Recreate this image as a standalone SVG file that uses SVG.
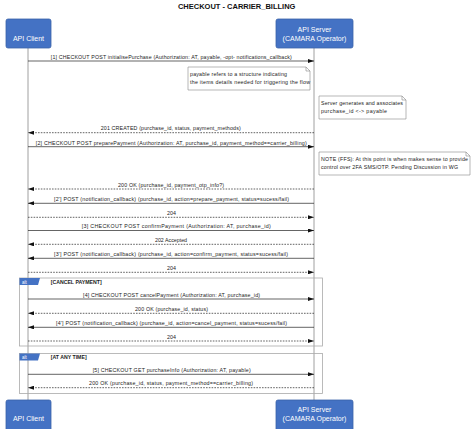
<svg xmlns="http://www.w3.org/2000/svg" width="474" height="429" viewBox="0 0 474 429">
<style>
text{font-family:"Liberation Sans",Arial,sans-serif;}
.title{font-size:7.5px;font-weight:bold;fill:#111;}
.pbox{fill:#4472C4;stroke:#3a62a8;stroke-width:0.8;}
.ptxt{font-size:7px;fill:#fff;}
.life{stroke:#888;stroke-width:0.8;}
.msg{font-size:5.3px;fill:#222;}
.sol{stroke:#222;stroke-width:0.7;fill:none;}
.das{stroke:#222;stroke-width:0.7;fill:none;stroke-dasharray:1.6,1.2;}
.note{fill:#fff;stroke:#888;stroke-width:0.6;}
.ntxt{font-size:5.3px;fill:#222;}
.frame{fill:none;stroke:#aaa;stroke-width:0.8;}
.tab{fill:#4472C4;}
.tabt{font-size:4.5px;fill:#fff;}
.guard{font-size:5.2px;font-weight:bold;fill:#222;}
</style>
<defs>
<marker id="ah" viewBox="0 0 6 4" refX="6" refY="2" markerWidth="6" markerHeight="4" markerUnits="userSpaceOnUse" orient="auto">
<path d="M0,0 L6,2 L0,4 Z" fill="#111"/>
</marker>
</defs>
<text class="title" x="236.7" y="9" text-anchor="middle">CHECKOUT - CARRIER_BILLING</text>
<g id="lifelines">
<line class="life" x1="28" y1="48" x2="28" y2="400"/>
<line class="life" x1="314" y1="48" x2="314" y2="400"/>
</g>
<g id="client">
<rect class="pbox" x="6" y="19" width="45" height="29" rx="2"/>
<text class="ptxt" x="28.5" y="40.5" text-anchor="middle">API Client</text>
</g>
<g id="server">
<rect class="pbox" x="276" y="19" width="77" height="29" rx="2"/>
<text class="ptxt" x="314.5" y="31.5" text-anchor="middle">API Server</text>
<text class="ptxt" x="314.5" y="40.5" text-anchor="middle">(CAMARA Operator)</text>
</g>
<g id="client-bottom">
<rect class="pbox" x="6" y="400" width="45" height="32" rx="2"/>
<text class="ptxt" x="28.5" y="421" text-anchor="middle">API Client</text>
</g>
<g id="server-bottom">
<rect class="pbox" x="276" y="400" width="77" height="32" rx="2"/>
<text class="ptxt" x="314.5" y="412" text-anchor="middle">API Server</text>
<text class="ptxt" x="314.5" y="421" text-anchor="middle">(CAMARA Operator)</text>
</g>
<g id="frames">
<rect class="frame" x="19.5" y="278" width="303" height="68"/>
<path class="tab" d="M19.5,278 H40 L38,285 H19.5 Z"/>
<text class="tabt" x="22" y="283.5">alt</text>
<text class="guard" x="50.7" y="284">[CANCEL PAYMENT]</text>
<rect class="frame" x="19.5" y="353.5" width="303" height="40"/>
<path class="tab" d="M19.5,353.5 H40 L38,360.5 H19.5 Z"/>
<text class="tabt" x="22" y="359">alt</text>
<text class="guard" x="50.7" y="359">[AT ANY TIME]</text>
</g>
<g id="notes">
<g id="note1">
<path class="note" d="M188,67 H306 L310,71 V90 H188 Z M306,67 V71 H310"/>
<text class="ntxt" x="190" y="76" textLength="97">payable refers to a structure indicating</text>
<text class="ntxt" x="190" y="83.5" textLength="120"> the items details needed for triggering the flow</text>
</g>
<g id="note2">
<path class="note" d="M319,96 H402 L406,100 V119 H319 Z M402,96 V100 H406"/>
<text class="ntxt" x="321" y="105" textLength="82">Server generates and associates</text>
<text class="ntxt" x="321" y="113" textLength="66"> purchase_id &lt;-&gt; payable</text>
</g>
<g id="note3">
<path class="note" d="M319,152 H466 L470,156 V175 H319 Z M466,152 V156 H470"/>
<text class="ntxt" x="321" y="160.5" textLength="147">NOTE (FFS): At this point is when makes sense to provide</text>
<text class="ntxt" x="321" y="168.5" textLength="137"> control over 2FA SMS/OTP. Pending Discussion in WG</text>
</g>
</g>
<g id="connectors">
<line class="sol" x1="28" y1="61" x2="314" y2="61" marker-end="url(#ah)"/>
<text class="msg" x="171.3" y="59" text-anchor="middle" textLength="241">[1] CHECKOUT POST initialisePurchase (Authorization: AT, payable, -opt- notifications_callback)</text>
<line class="das" x1="314" y1="132.7" x2="28" y2="132.7" marker-end="url(#ah)"/>
<text class="msg" x="170.7" y="130" text-anchor="middle" textLength="140">201 CREATED (purchase_id, status, payment_methods)</text>
<line class="sol" x1="28" y1="146.7" x2="314" y2="146.7" marker-end="url(#ah)"/>
<text class="msg" x="171.2" y="144.5" text-anchor="middle" textLength="271">[2] CHECKOUT POST preparePayment (Authorization: AT, purchase_id, payment_method==carrier_billing)</text>
<line class="das" x1="314" y1="189" x2="28" y2="189" marker-end="url(#ah)"/>
<text class="msg" x="171" y="186.5" text-anchor="middle" textLength="106">200 OK (purchase_id, payment_otp_info?)</text>
<line class="sol" x1="314" y1="203.3" x2="28" y2="203.3" marker-end="url(#ah)"/>
<text class="msg" x="171.5" y="200.8" text-anchor="middle" textLength="235">[2'] POST (notification_callback) (purchase_id, action=prepare_payment, status=sucess/fail)</text>
<line class="das" x1="28" y1="217.3" x2="314" y2="217.3" marker-end="url(#ah)"/>
<text class="msg" x="171.5" y="214.8" text-anchor="middle">204</text>
<line class="sol" x1="28" y1="230.5" x2="314" y2="230.5" marker-end="url(#ah)"/>
<text class="msg" x="176.2" y="228" text-anchor="middle" textLength="189">[3] CHECKOUT POST confirmPayment (Authorization: AT, purchase_id)</text>
<line class="das" x1="314" y1="244.3" x2="28" y2="244.3" marker-end="url(#ah)"/>
<text class="msg" x="171" y="241.8" text-anchor="middle">202 Accepted</text>
<line class="sol" x1="314" y1="258.3" x2="28" y2="258.3" marker-end="url(#ah)"/>
<text class="msg" x="171" y="255.8" text-anchor="middle" textLength="234">[3'] POST (notification_callback) (purchase_id, action=confirm_payment, status=sucess/fail)</text>
<line class="das" x1="28" y1="272.3" x2="314" y2="272.3" marker-end="url(#ah)"/>
<text class="msg" x="171.5" y="269.8" text-anchor="middle">204</text>
<line class="sol" x1="28" y1="299" x2="314" y2="299" marker-end="url(#ah)"/>
<text class="msg" x="171.5" y="296.5" text-anchor="middle" textLength="177">[4] CHECKOUT POST cancelPayment (Authorization: AT, purchase_id)</text>
<line class="das" x1="314" y1="313.3" x2="28" y2="313.3" marker-end="url(#ah)"/>
<text class="msg" x="171.5" y="310.8" text-anchor="middle" textLength="73">200 OK (purchase_id, status)</text>
<line class="sol" x1="314" y1="327.3" x2="28" y2="327.3" marker-end="url(#ah)"/>
<text class="msg" x="171.5" y="324.8" text-anchor="middle" textLength="231">[4'] POST (notification_callback) (purchase_id, action=cancel_payment, status=sucess/fail)</text>
<line class="das" x1="28" y1="341" x2="314" y2="341" marker-end="url(#ah)"/>
<text class="msg" x="171.5" y="338.5" text-anchor="middle">204</text>
<line class="sol" x1="28" y1="374.3" x2="314" y2="374.3" marker-end="url(#ah)"/>
<text class="msg" x="171.7" y="371.8" text-anchor="middle" textLength="158">[5] CHECKOUT GET purchaseInfo (Authorization: AT, payable)</text>
<line class="das" x1="314" y1="387.7" x2="28" y2="387.7" marker-end="url(#ah)"/>
<text class="msg" x="171" y="385.2" text-anchor="middle" textLength="164">200 OK (purchase_id, status, payment_method==carrier_billing)</text>
</g>
</svg>
